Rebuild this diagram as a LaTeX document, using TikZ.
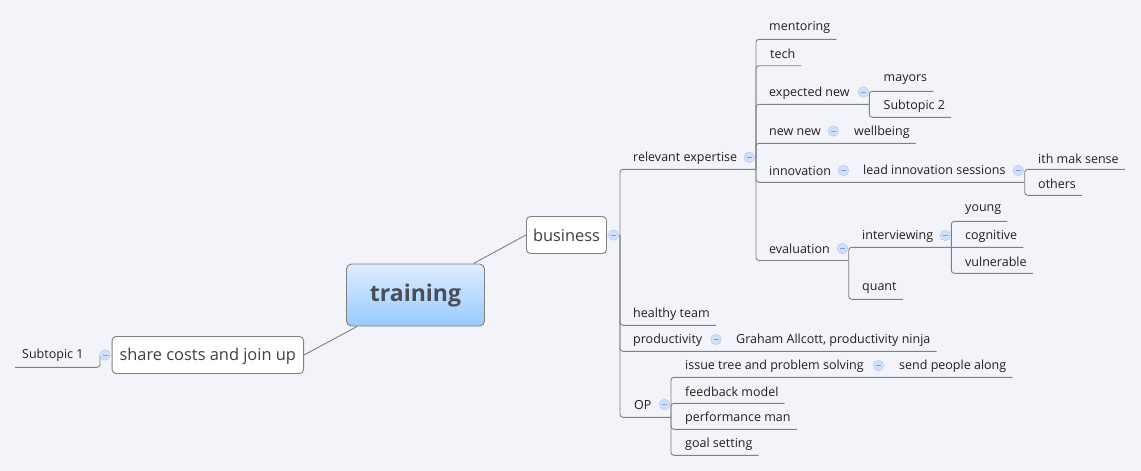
\documentclass[tikz,border=0pt]{standalone}
\usepackage{fontspec}
\setmainfont{Open Sans}
\definecolor{paper}{HTML}{F2F4FA}
\definecolor{branchgray}{HTML}{808080}
\definecolor{foldfill}{HTML}{CFE0FB}
\definecolor{folddraw}{HTML}{B9D1F6}
\definecolor{foldmark}{HTML}{7F9FD8}
\definecolor{inktext}{HTML}{202020}
\definecolor{boxtext}{HTML}{404040}
\definecolor{roottext}{HTML}{4A4F57}
\definecolor{roottop}{HTML}{DDEDFF}
\definecolor{rootbottom}{HTML}{98CAFF}
\tikzset{
  topic/.style={anchor=south west,inner xsep=6pt,inner ysep=5pt,text height=10pt,text depth=3pt,text=inktext,font=\fontsize{12.5}{15}\selectfont},
  mainbox/.style={draw=branchgray,line width=0.9pt,fill=white,rounded corners=4pt,inner sep=0pt,minimum height=37pt,text=boxtext,font=\fontsize{16.4}{19}\selectfont},
  rootbox/.style={draw=branchgray,line width=0.9pt,top color=roottop,bottom color=rootbottom,rounded corners=5pt,inner sep=0pt,minimum width=138pt,minimum height=62pt,text height=14pt,text depth=0.6pt,text=roottext,font=\fontsize{23}{27}\selectfont\bfseries},
  branch/.style={draw=branchgray,line width=0.9pt,rounded corners=3pt},
  spoke/.style={draw=branchgray,line width=0.9pt},
  foldline/.style={draw=folddraw,line width=0.9pt},
  fold/.style={circle,draw=folddraw,fill=foldfill,line width=0.7pt,inner sep=0pt,minimum size=10.5pt,
    path picture={\draw[foldmark,line width=0.7pt] ([xshift=-2.5pt]path picture bounding box.center) -- ([xshift=2.5pt]path picture bounding box.center);}}
}
\begin{document}
\begin{tikzpicture}[x=1pt,y=1pt]
\fill [paper] (0,0) rectangle (1141,-471);
\useasboundingbox (0,0) rectangle (1141,-471);
% big boxes
\node [rootbox] (training) at (415.5,-295) {training};
\node [mainbox,minimum width=80pt,text height=13.4pt,text depth=0pt] (business) at (566.5,-235) {business};
\node [mainbox,minimum width=191.5pt,text height=12pt,text depth=2pt] (share) at (207.8,-355) {share costs and join up};
\draw [spoke] (training) -- (business.west);
\draw [spoke] (training) -- (share.east);
% first level
\node [topic] (relevant) at (627,-169.3) {relevant expertise};
\node [topic] (healthy) at (627,-325.3) {healthy team};
\node [topic] (productivity) at (627,-351.3) {productivity};
\node [topic] (op) at (628,-417.3) {OP};
\node [topic,text depth=4pt,inner xsep=6.8pt] (subtopicone) at (15.2,-367.3) {Subtopic 1};
\coordinate (busstem) at (620,-235);
\coordinate (sharestem) at (100,-355);
\coordinate (relstem) at (756,-169.3);
\coordinate (opstem) at (671,-417.3);
\draw [foldline] (business.east) -- (busstem);
\draw [foldline] (share.west) -- (sharestem);
\draw [branch] (busstem) |- (relevant.south west) -- (relstem);
\draw [branch] (busstem) |- (healthy.south west) -- (healthy.south east);
\draw [branch] (busstem) |- (opstem);
\draw [branch] (sharestem) |- (subtopicone.south east) -- (subtopicone.south west);
% relevant expertise
\node [topic,text depth=4pt] (mentoring) at (763,-39.3) {mentoring};
\node [topic,text depth=2pt] (tech) at (764,-65.7) {tech};
\node [topic] (expected) at (763,-104.3) {expected new};
\node [topic] (newnew) at (763,-143.3) {new new};
\node [topic] (wellbeing) at (848,-143.3) {wellbeing};
\node [topic,text depth=2pt] (innovation) at (763,-182.3) {innovation};
\node [topic,text depth=2.5pt] (lead) at (857,-182.3) {lead innovation sessions};
\node [topic,text depth=2pt] (evaluation) at (763,-260.5) {evaluation};
\coordinate (expstem) at (869.3,-104.3);
\coordinate (leadstem) at (1024.7,-182.3);
\coordinate (evalstem) at (848.7,-260.5);
\draw [branch] (relstem) |- (mentoring.south west) -- (mentoring.south east);
\draw [branch] (relstem) |- (tech.south west) -- (tech.south east);
\draw [branch] (relstem) |- (expstem);
\draw [branch] (relstem) |- (newnew.south west) -- (wellbeing.south east);
\draw [branch] (relstem) |- (leadstem);
\draw [branch] (relstem) |- (evalstem);
% expected new
\node [topic,text depth=5pt] (mayors) at (877.5,-91.3) {mayors};
\node [topic] (subtopictwo) at (877.5,-117.3) {Subtopic 2};
\draw [branch] (expstem) |- (mayors.south west) -- (mayors.south east);
\draw [branch] (expstem) |- (subtopictwo.south west) -- (subtopictwo.south east);
% lead innovation sessions
\node [topic,text depth=1pt] (ith) at (1032,-169.3) {ith mak sense};
\node [topic,text depth=2pt] (others) at (1032,-195.3) {others};
\draw [branch] (leadstem) |- (ith.south west) -- (ith.south east);
\draw [branch] (leadstem) |- (others.south west) -- (others.south east);
% evaluation
\node [topic] (interviewing) at (856,-247.3) {interviewing};
\node [topic,text depth=4pt] (quant) at (856,-299.3) {quant};
\node [topic,text depth=5pt] (young) at (959,-221.3) {young};
\node [topic] (cognitive) at (959,-247.3) {cognitive};
\node [topic,text depth=2pt] (vulnerable) at (959,-273.3) {vulnerable};
\coordinate (intstem) at (951.3,-247.3);
\draw [branch] (evalstem) |- (interviewing.south west) -- (cognitive.south east);
\draw [branch] (evalstem) |- (quant.south west) -- (quant.south east);
\draw [branch] (intstem) |- (young.south west) -- (young.south east);
\draw [branch] (intstem) |- (vulnerable.south west) -- (vulnerable.south east);
% productivity
\node [topic] (graham) at (730,-351.3) {Graham Allcott, productivity ninja};
\draw [branch] (busstem) |- (productivity.south west) -- (graham.south east);
% OP
\node [topic] (issue) at (679,-377.3) {issue tree and problem solving};
\node [topic] (send) at (893,-377.3) {send people along};
\node [topic,text depth=2pt] (feedback) at (679,-403.3) {feedback model};
\node [topic] (performance) at (679,-429.3) {performance man};
\node [topic] (goal) at (679,-455.3) {goal setting};
\draw [branch] (opstem) |- (issue.south west) -- (send.south east);
\draw [branch] (opstem) |- (feedback.south west) -- (feedback.south east);
\draw [branch] (opstem) |- (performance.south west) -- (performance.south east);
\draw [branch] (opstem) |- (goal.south west) -- (goal.south east);
% fold marks
\node [fold] (busfold) at (613.5,-235) {};
\node [fold] (sharefold) at (105,-355) {};
\node [fold] (relfold) at (749.3,-157.3) {};
\node [fold] (expfold) at (863.5,-92) {};
\node [fold] (newfold) at (833.3,-131) {};
\node [fold] (innofold) at (843.5,-170.5) {};
\node [fold] (leadfold) at (1018.3,-170.5) {};
\node [fold] (evalfold) at (842.5,-248.5) {};
\node [fold] (intfold) at (945.3,-235.5) {};
\node [fold] (prodfold) at (716,-339.5) {};
\node [fold] (issuefold) at (878.5,-365.5) {};
\node [fold] (opfold) at (664.5,-404.5) {};
\end{tikzpicture}
\end{document}
